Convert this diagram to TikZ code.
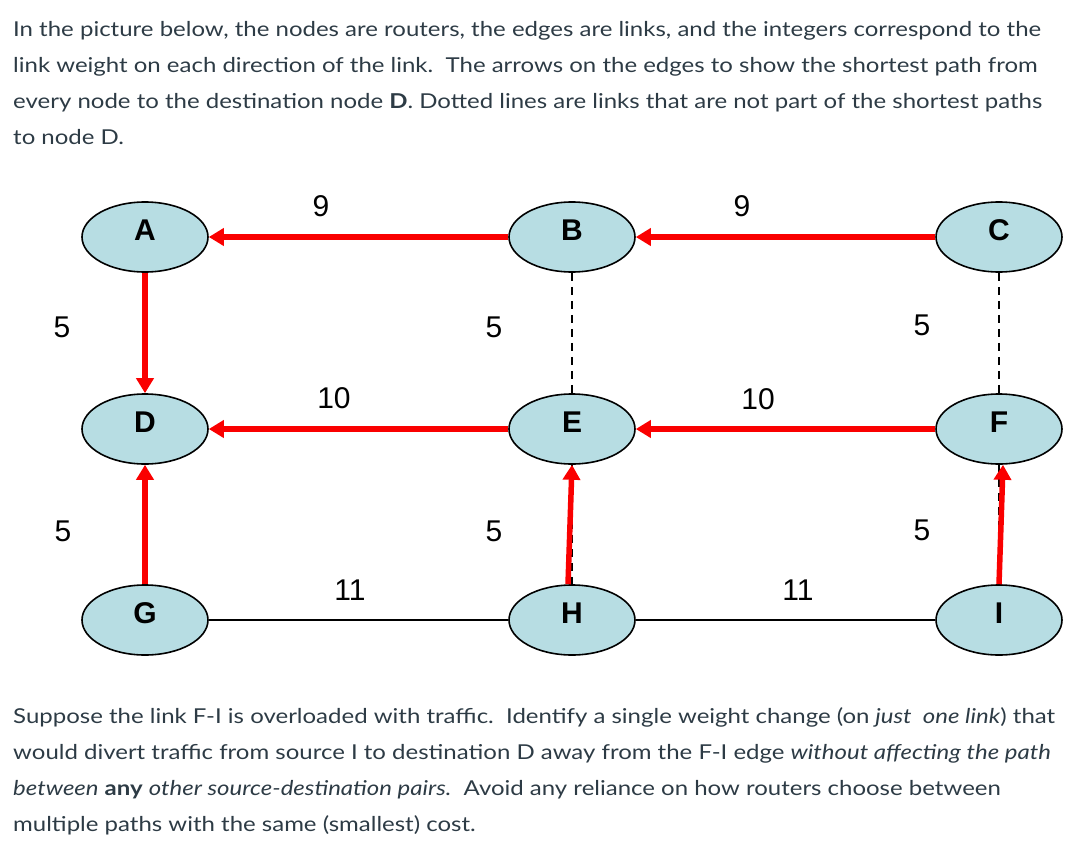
\documentclass[tikz,border=0pt]{standalone}
\usepackage{fontspec}
\setmainfont{Lato}[FakeStretch=1.17]
\newfontfamily\arialfont{Liberation Sans}
\usepackage{xcolor}
\usetikzlibrary{arrows.meta,shapes.geometric,calc}
\definecolor{routerfill}{RGB}{183,221,227}
\definecolor{pathred}{RGB}{250,0,0}
\definecolor{canvastext}{RGB}{45,59,69}

\begin{document}
\begin{tikzpicture}[x=1pt,y=-1pt,>={Triangle[length=15pt,width=17pt]},
  router/.style={ellipse,draw=black,line width=1.6pt,fill=routerfill,
    minimum width=126pt,minimum height=70pt,inner sep=0pt,
    text height=21.5pt,text depth=14pt,font=\arialfont\fontsize{30}{30}\selectfont\bfseries},
  weight/.style={inner sep=0pt,font=\arialfont\fontsize{30}{30}\selectfont},
  prose/.style={anchor=base west,inner sep=0pt,text=canvastext,font=\fontsize{20.5}{24}\selectfont},
  sp/.style={->,draw=pathred,line width=5.5pt},
  notpath/.style={draw=black,line width=1.6pt,dash pattern=on 8pt off 6pt},
  plain/.style={draw=black,line width=1.5pt}]
  \useasboundingbox (0,0) rectangle (1082,854);
  % question text above the graph
  \node[prose] (q1) at (13,36) {In the picture below, the nodes are routers, the edges are links, and the integers correspond to the};
  \node[prose] (q2) at (13,72) {link weight on each direction of the link.\ \ The arrows on the edges to show the shortest path from};
  \node[prose] (q3) at (13,108) {every node to the destination node \textbf{D}. Dotted lines are links that are not part of the shortest paths};
  \node[prose] (q4) at (13,144) {to node D.};
  % routers on a 3x3 grid
  \foreach \n/\x/\y in {A/145/237,B/572/237,C/999/237,
                        D/145/429,E/572/429,F/999/429,
                        G/145/620,H/572/620,I/999/620}{
    \node[router] (\n) at (\x,\y) {\n};}
  % links not on a shortest path
  \draw[notpath] (B) -- (E);
  \draw[notpath] (C) -- (F);
  \draw[notpath] (E) -- (H);
  \draw[notpath] (F) -- (I);
  \draw[plain] (G) -- (H);
  \draw[plain] (H) -- (I);
  % shortest paths towards D
  \draw[sp] (B) -- (A);
  \draw[sp] (C) -- (B);
  \draw[sp] (A) -- (D);
  \draw[sp] (E) -- (D);
  \draw[sp] (F) -- (E);
  \draw[sp] (G) -- (D);
  \draw[sp] ($(H.north)+(-4,0)$) -- (E.south);
  \draw[sp] (I.north) -- ($(F.south)+(4,0)$);
  % link weights
  \foreach \w/\x/\y [count=\i] in {9/321/206,9/742/206,
                                   5/62/327,5/494/327,5/922/325,
                                   10/334/398,10/758/399,
                                   5/63/531,5/494/531,5/922/530,
                                   11/350/590,11/798/590}{
    \node[weight] (w\i) at (\x,\y) {\w};}
  % question text below the graph
  \node[prose] (s1) at (13,723) {Suppose the link F-I is overloaded with traffic.\ \ Identify a single weight change (on \textit{just\ \ one link}) that};
  \node[prose] (s2) at (13,759) {would divert traffic from source I to destination D away from the F-I edge \textit{without affecting the path}};
  \node[prose] (s3) at (13,795) {\textit{between} \textbf{any} \textit{other source-destination pairs.}\ \ Avoid any reliance on how routers choose between};
  \node[prose] (s4) at (13,831) {multiple paths with the same (smallest) cost.};
\end{tikzpicture}
\end{document}
